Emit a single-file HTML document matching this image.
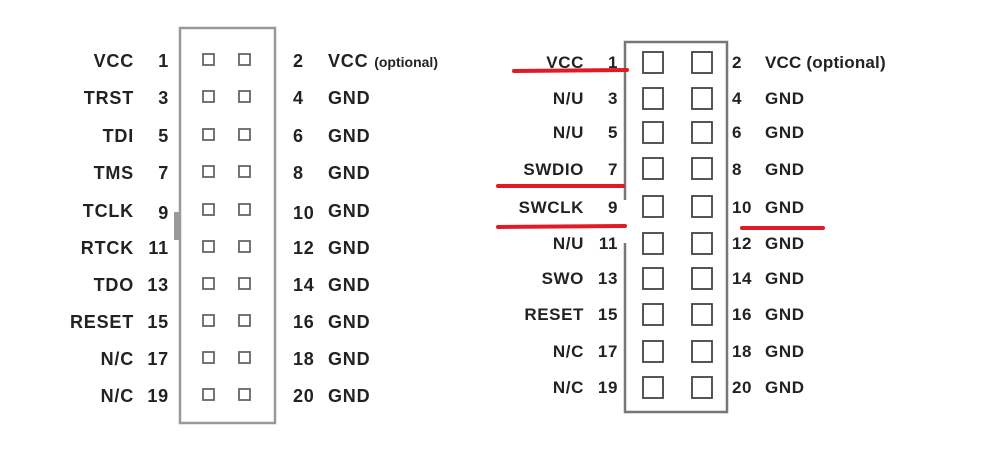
<!DOCTYPE html>
<html><head><meta charset="utf-8"><style>
html,body{margin:0;padding:0;background:#fff;width:992px;height:455px;overflow:hidden}
text{font-family:"Liberation Sans",Arial,sans-serif;font-weight:bold;fill:#222}
</style></head><body>
<svg width="992" height="455" viewBox="0 0 992 455" xmlns="http://www.w3.org/2000/svg">
<!-- LEFT connector -->
<rect x="180" y="28" width="95" height="395" fill="none" stroke="#999" stroke-width="2.5"/>
<rect x="174" y="212" width="6" height="28" fill="#999"/>
<g fill="none" stroke="#666" stroke-width="1.8">
<rect x="203" y="54" width="11" height="11"/><rect x="239" y="54" width="11" height="11"/>
<rect x="203" y="91" width="11" height="11"/><rect x="239" y="91" width="11" height="11"/>
<rect x="203" y="129" width="11" height="11"/><rect x="239" y="129" width="11" height="11"/>
<rect x="203" y="166" width="11" height="11"/><rect x="239" y="166" width="11" height="11"/>
<rect x="203" y="204" width="11" height="11"/><rect x="239" y="204" width="11" height="11"/>
<rect x="203" y="241" width="11" height="11"/><rect x="239" y="241" width="11" height="11"/>
<rect x="203" y="278" width="11" height="11"/><rect x="239" y="278" width="11" height="11"/>
<rect x="203" y="315" width="11" height="11"/><rect x="239" y="315" width="11" height="11"/>
<rect x="203" y="352" width="11" height="11"/><rect x="239" y="352" width="11" height="11"/>
<rect x="203" y="389" width="11" height="11"/><rect x="239" y="389" width="11" height="11"/>
</g>
<g font-size="18" letter-spacing="0.8" text-anchor="end">
<text x="134" y="67">VCC</text><text x="134" y="104">TRST</text><text x="134" y="142">TDI</text>
<text x="134" y="179">TMS</text><text x="134" y="217">TCLK</text><text x="134" y="254">RTCK</text>
<text x="134" y="291">TDO</text><text x="134" y="328">RESET</text><text x="134" y="365">N/C</text>
<text x="134" y="402">N/C</text>
<text x="169" y="67">1</text><text x="169" y="104">3</text><text x="169" y="142">5</text>
<text x="169" y="179">7</text><text x="169" y="219">9</text><text x="169" y="254">11</text>
<text x="169" y="291">13</text><text x="169" y="328">15</text><text x="169" y="365">17</text>
<text x="169" y="402">19</text>
</g>
<g font-size="18" letter-spacing="0.8">
<text x="293" y="67">2</text><text x="293" y="104">4</text><text x="293" y="142">6</text>
<text x="293" y="179">8</text><text x="293" y="219">10</text><text x="293" y="254">12</text>
<text x="293" y="291">14</text><text x="293" y="328">16</text><text x="293" y="365">18</text>
<text x="293" y="402">20</text>
<text x="328" y="67">VCC <tspan font-size="14" letter-spacing="0">(optional)</tspan></text>
<text x="328" y="104">GND</text><text x="328" y="142">GND</text><text x="328" y="179">GND</text>
<text x="328" y="217">GND</text><text x="328" y="254">GND</text><text x="328" y="291">GND</text>
<text x="328" y="328">GND</text><text x="328" y="365">GND</text><text x="328" y="402">GND</text>
</g>
<!-- RIGHT connector -->
<path d="M625 200 V42 H727 V412 H625 V243" fill="none" stroke="#777" stroke-width="2.5"/>
<g fill="none" stroke="#444" stroke-width="1.8">
<rect x="643" y="52" width="20" height="21"/><rect x="692" y="52" width="20" height="21"/>
<rect x="643" y="88" width="20" height="21"/><rect x="692" y="88" width="20" height="21"/>
<rect x="643" y="122" width="20" height="21"/><rect x="692" y="122" width="20" height="21"/>
<rect x="643" y="158" width="20" height="21"/><rect x="692" y="158" width="20" height="21"/>
<rect x="643" y="196" width="20" height="21"/><rect x="692" y="196" width="20" height="21"/>
<rect x="643" y="233" width="20" height="21"/><rect x="692" y="233" width="20" height="21"/>
<rect x="643" y="268" width="20" height="21"/><rect x="692" y="268" width="20" height="21"/>
<rect x="643" y="304" width="20" height="21"/><rect x="692" y="304" width="20" height="21"/>
<rect x="643" y="341" width="20" height="21"/><rect x="692" y="341" width="20" height="21"/>
<rect x="643" y="377" width="20" height="21"/><rect x="692" y="377" width="20" height="21"/>
</g>
<g font-size="17" letter-spacing="0.6" text-anchor="end">
<text x="584" y="68">VCC</text><text x="584" y="104">N/U</text><text x="584" y="138">N/U</text>
<text x="584" y="175">SWDIO</text><text x="584" y="213">SWCLK</text><text x="584" y="249">N/U</text>
<text x="584" y="284">SWO</text><text x="584" y="320">RESET</text><text x="584" y="357">N/C</text>
<text x="584" y="393">N/C</text>
<text x="618" y="68">1</text><text x="618" y="104">3</text><text x="618" y="138">5</text>
<text x="618" y="175">7</text><text x="618" y="213">9</text><text x="618" y="249">11</text>
<text x="618" y="284">13</text><text x="618" y="320">15</text><text x="618" y="357">17</text>
<text x="618" y="393">19</text>
</g>
<g font-size="17" letter-spacing="0.6">
<text x="732" y="68">2</text><text x="732" y="104">4</text><text x="732" y="138">6</text>
<text x="732" y="175">8</text><text x="732" y="213">10</text><text x="732" y="249">12</text>
<text x="732" y="284">14</text><text x="732" y="320">16</text><text x="732" y="357">18</text>
<text x="732" y="393">20</text>
<text x="765" y="68" letter-spacing="0.2">VCC (optional)</text>
<text x="765" y="104">GND</text><text x="765" y="138">GND</text><text x="765" y="175">GND</text>
<text x="765" y="213">GND</text><text x="765" y="249">GND</text><text x="765" y="284">GND</text>
<text x="765" y="320">GND</text><text x="765" y="357">GND</text><text x="765" y="393">GND</text>
</g>
<g stroke="#e01b24" stroke-width="4" stroke-linecap="round">
<line x1="514" y1="71" x2="627" y2="70"/>
<line x1="498" y1="186" x2="623" y2="186"/>
<line x1="498" y1="227" x2="625" y2="226"/>
<line x1="742" y1="228" x2="823" y2="228"/>
</g>
</svg>
</body></html>
